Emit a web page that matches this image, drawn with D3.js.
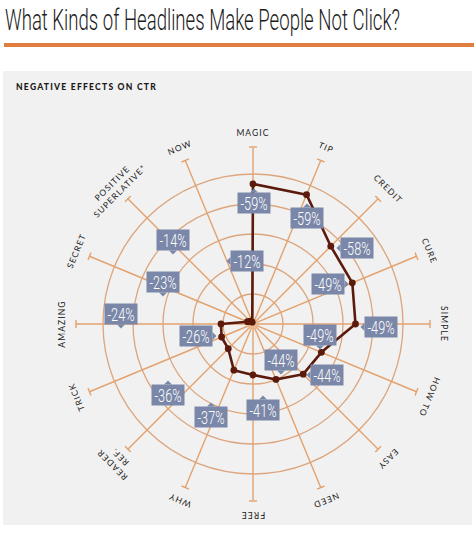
<!DOCTYPE html>
<html>
<head>
<meta charset="utf-8">
<script src="https://cdn.jsdelivr.net/npm/d3@7"></script>
<style>
  body { margin: 0; background: #fff; }
  svg { display: block; }
</style>
</head>
<body>
<div class="canvas"></div>
<script>
// headline types, clockwise from the top
const categories = ['MAGIC', 'TIP', 'CREDIT', 'CURE', 'SIMPLE', 'HOW TO', 'EASY', 'NEED',
  'FREE', 'WHY', 'READER REF.', 'TRICK', 'AMAZING', 'SECRET', 'POSITIVE SUPERLATIVE*', 'NOW'];
// change in click-through rate shown in the boxes
const ctrChange = [-59, -59, -58, -49, -49, -49, -44, -44, -41, -37, -36, -26, -24, -23, -14, -12];
// where the original puts each point on the ring scale (drop, in %)
const plotted = [56, 56, 44, 43, 41, 29.6, 28.4, 24, 20.4, 20, 14, 13.6, 12.8, 2.4, 1.6, 0.8];
const ringTicks = [12, 24, 36, 48, 60];

// box placement around the centre (px) and which side the little pointer sits on
const boxAt = [[1, -121], [54, -106], [104, -76], [75, -40], [128, 3], [67, 11], [74, 51], [28, 36],
  [10, 86], [-42, 93], [-85, 71], [-57, 12], [-132, -10], [-90, -42], [-80, -84], [-6, -63]];
const pointer = ['top', 'top', 'left', 'right', 'left', 'bottom', 'left', 'bottom',
  'top', 'top', 'top', 'right', 'bottom', 'bottom', 'bottom', 'left'];

const dims = { width: 474, height: 534 };
const cent = { x: 253, y: 324 };
const axisLen = 177;
const axisColour = '#e3a26e';
const ringColour = '#dca57d';
const lineColour = '#5b1a0c';
const boxColour = '#7a87a8';

const data = categories.map((c, i) => ({ cat: c, value: ctrChange[i], pos: plotted[i] }));

const svg = d3.select('.canvas')
  .append('svg')
  .attr('width', dims.width)
  .attr('height', dims.height);

// title + orange rule (narrow, tall lettering: squeeze a smaller font upward)
svg.append('text')
  .attr('transform', 'translate(5, 30) scale(1, 1.5)')
  .attr('textLength', 395)
  .attr('lengthAdjust', 'spacingAndGlyphs')
  .style('font-family', 'Roboto, "Liberation Sans Narrow", sans-serif')
  .style('font-weight', 300)
  .style('font-size', '20px')
  .style('fill', '#1c1c1c')
  .text('What Kinds of Headlines Make People Not Click?');

svg.append('rect')
  .attr('x', 4).attr('y', 43)
  .attr('width', 470).attr('height', 4)
  .attr('fill', '#e07d3f');

// grey panel
svg.append('rect')
  .attr('x', 3).attr('y', 71)
  .attr('width', 469).attr('height', 454)
  .attr('fill', '#f1f1f1');

svg.append('text')
  .attr('x', 16)
  .attr('y', 90)
  .attr('textLength', 141)
  .attr('lengthAdjust', 'spacingAndGlyphs')
  .style('font-family', 'Lato, "DejaVu Sans", sans-serif')
  .style('font-weight', 900)
  .style('font-size', '9px')
  .style('letter-spacing', '1.3px')
  .style('fill', '#1a1a1a')
  .text('NEGATIVE EFFECTS ON CTR');

const angle = d3.scaleBand()
  .domain(categories)
  .range([0, 2 * Math.PI]);

const r = d3.scaleLinear()
  .domain([0, 60])
  .range([0, 150]);

const graph = svg.append('g')
  .attr('transform', `translate(${cent.x}, ${cent.y})`);

// rings
graph.selectAll('circle.ring')
  .data(ringTicks)
  .enter()
  .append('circle')
    .attr('class', 'ring')
    .attr('r', d => r(d))
    .attr('fill', 'none')
    .attr('stroke', ringColour)
    .attr('stroke-width', 1.3);

// spokes with end caps
const spokes = graph.selectAll('g.spoke')
  .data(categories)
  .enter()
  .append('g')
    .attr('class', 'spoke')
    .attr('transform', d => `rotate(${angle(d) * 180 / Math.PI})`);

spokes.append('line')
  .attr('x1', 0).attr('y1', 0)
  .attr('x2', 0).attr('y2', -axisLen)
  .attr('stroke', axisColour)
  .attr('stroke-width', 1.4);

spokes.append('line')
  .attr('x1', -4).attr('x2', 4)
  .attr('y1', -axisLen).attr('y2', -axisLen)
  .attr('stroke', axisColour)
  .attr('stroke-width', 1.4);

graph.append('circle')
  .attr('r', 4)
  .attr('fill', '#f0b98e');

// axis names, written along the circle
const names = spokes.append('text')
  .attr('text-anchor', 'middle')
  .style('font-family', 'Lato, "Open Sans", sans-serif')
  .style('font-size', '8.5px')
  .style('letter-spacing', '1.1px')
  .style('fill', '#222');

names.each(function(d) {
  const lines = (d.length > 8 && d.includes(' ')) ? d.split(' ') : [d];
  const t = d3.select(this);
  lines.forEach((ln, i) => {
    const y = lines.length === 1 ? -188 : (i === 0 ? -196 : -185);
    t.append('tspan').attr('x', 0).attr('y', y).text(ln);
  });
});

// the polygon
const radar = d3.lineRadial()
  .angle(d => angle(d.cat))
  .radius(d => r(d.pos))
  .curve(d3.curveLinearClosed);

graph.append('path')
  .attr('d', radar(data))
  .attr('fill', 'none')
  .attr('stroke', lineColour)
  .attr('stroke-width', 2.6)
  .attr('stroke-linejoin', 'round');

const px = d => r(d.pos) * Math.sin(angle(d.cat));
const py = d => -r(d.pos) * Math.cos(angle(d.cat));

graph.selectAll('circle.pt')
  .data(data)
  .enter()
  .append('circle')
    .attr('class', 'pt')
    .attr('cx', px)
    .attr('cy', py)
    .attr('r', 3.4)
    .attr('fill', lineColour);

// value boxes
const bw = 33, bh = 21, tri = 4;
const boxes = graph.selectAll('g.box')
  .data(data)
  .enter()
  .append('g')
    .attr('class', 'box')
    .attr('transform', (d, i) => `translate(${boxAt[i][0]}, ${boxAt[i][1]})`);

boxes.append('rect')
  .attr('x', -bw / 2).attr('y', -bh / 2)
  .attr('width', bw).attr('height', bh)
  .attr('fill', boxColour);

boxes.append('path')
  .attr('fill', boxColour)
  .attr('d', (d, i) => {
    const s = pointer[i];
    if (s === 'top') return `M${-tri},${-bh / 2} L0,${-bh / 2 - tri} L${tri},${-bh / 2} Z`;
    if (s === 'bottom') return `M${-tri},${bh / 2} L0,${bh / 2 + tri} L${tri},${bh / 2} Z`;
    if (s === 'left') return `M${-bw / 2},${-tri} L${-bw / 2 - tri},0 L${-bw / 2},${tri} Z`;
    return `M${bw / 2},${-tri} L${bw / 2 + tri},0 L${bw / 2},${tri} Z`;
  });

boxes.append('text')
  .attr('x', 0)
  .attr('y', 6.5)
  .attr('text-anchor', 'middle')
  .attr('textLength', 27)
  .attr('lengthAdjust', 'spacingAndGlyphs')
  .style('font-family', 'Roboto, "Liberation Sans Narrow", sans-serif')
  .style('font-weight', 300)
  .style('font-size', '18px')
  .style('fill', '#fff')
  .text(d => d.value + '%');
</script>
</body>
</html>
